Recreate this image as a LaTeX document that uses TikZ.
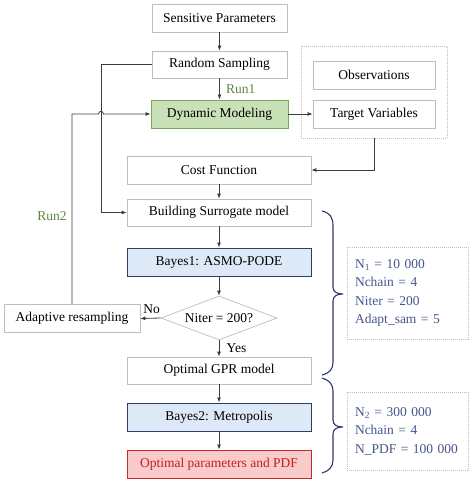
\documentclass[tikz,border=0pt]{standalone}
\usepackage{fontspec}
\setmainfont{Liberation Serif}
\usetikzlibrary{arrows.meta,shapes.geometric}
\definecolor{boxgray}{RGB}{190,190,190}
\definecolor{linegray}{RGB}{60,60,60}
\definecolor{greenfill}{RGB}{200,225,182}
\definecolor{greenline}{RGB}{120,165,95}
\definecolor{bluefill}{RGB}{222,233,247}
\definecolor{blueline}{RGB}{45,60,105}
\definecolor{redfill}{RGB}{249,203,203}
\definecolor{redline}{RGB}{200,40,40}
\definecolor{redtext}{RGB}{195,30,30}
\definecolor{runtext}{RGB}{95,135,65}
\definecolor{paramtext}{RGB}{70,85,140}
\definecolor{bracecol}{RGB}{45,55,110}
\tikzset{
  base/.style={rectangle, draw=boxgray, line width=0.7pt, fill=white, inner sep=0pt,
    font=\fontsize{13.5}{16}\selectfont, text=black},
  wbox/.style={base, minimum width=184pt, minimum height=28pt},
  gbox/.style={base, draw=greenline, fill=greenfill, line width=0.9pt},
  bbox/.style={wbox, draw=blueline, fill=bluefill, line width=1pt},
  rbox/.style={wbox, draw=redline, fill=redfill, line width=1pt, text=redtext},
  dotbox/.style={rectangle, draw=boxgray, dash pattern=on 1pt off 1pt, line width=0.6pt, inner sep=0pt},
  parbox/.style={dotbox, font=\fontsize{13.5}{18.6}\selectfont, text=paramtext, align=left,
    minimum width=121pt, inner xsep=8pt, text width=105pt},
  conn/.style={draw=linegray, line width=0.8pt, -{Latex[length=5pt,width=4pt]}},
  plain/.style={draw=linegray, line width=0.8pt},
  runlbl/.style={font=\fontsize{13.5}{16}\selectfont, text=runtext},
  lbl/.style={font=\fontsize{13.5}{16}\selectfont, text=black},
  bracestyle/.style={draw=bracecol, line width=1.1pt},
}
\begin{document}
\begin{tikzpicture}[x=1pt,y=-1pt]
\useasboundingbox (0,0) rectangle (474,486);
% group box
\node[dotbox, minimum width=146pt, minimum height=92pt] (grp) at (374,92) {};
\node[base, minimum width=135pt, minimum height=28pt] (sens) at (219.5,18) {Sensitive Parameters};
\node[base, minimum width=135pt, minimum height=27pt] (rand) at (219.5,64.5) {Random Sampling};
\node[gbox, minimum width=137pt, minimum height=28pt] (dyn) at (219.5,114) {Dynamic Modeling};
\node[base, minimum width=122pt, minimum height=28pt] (obs) at (374,75) {Observations};
\node[base, minimum width=122pt, minimum height=28pt] (targ) at (374,114) {Target Variables};
\node[wbox] (cost) at (219,170) {Cost Function};
\node[wbox, minimum height=27pt] (build) at (219,212.5) {Building Surrogate model};
\node[bbox] (bayes1) at (219,262) {Bayes1: ASMO-PODE};
\node[base, shape=diamond, aspect=2.64, minimum width=116pt, minimum height=44pt] (dec) at (219,318) {Niter = 200?};
\node[base, minimum width=136pt, minimum height=28pt] (adapt) at (72,318.5) {Adaptive resampling};
\node[wbox, minimum height=27pt] (gpr) at (219,370.5) {Optimal GPR model};
\node[bbox] (bayes2) at (219,417) {Bayes2: Metropolis};
\node[rbox] (opt) at (219,464) {Optimal parameters and PDF};
% parameter boxes
\node[parbox, minimum height=92pt] (par1) at (407.5,293)
  {N\textsubscript{1} = 10 000\\Nchain = 4\\Niter = 200\\Adapt\_sam = 5};
\node[parbox, minimum height=78pt] (par2) at (407.5,431)
  {N\textsubscript{2} = 300 000\\Nchain = 4\\N\_PDF = 100 000};
% connectors
\draw[conn] (sens) -- (rand);
\draw[conn] (rand) -- node[runlbl, right=3pt, pos=0.5] (run1) {Run1} (dyn);
\draw[conn] (dyn) -- (targ);
\draw[conn] (grp.south) |- (cost.east);
\draw[conn] (cost) -- (build);
\draw[conn] (build) -- (bayes1);
\draw[conn] (bayes1) -- (dec);
\draw[conn] (dec.west) -- node[lbl, above=1pt, pos=0.45] (nolbl) {No} (adapt.east);
\draw[conn] (dec.south) -- node[lbl, right=4pt, pos=0.45] (yeslbl) {Yes} (gpr.north);
\draw[conn] (gpr) -- (bayes2);
\draw[conn] (bayes2) -- (opt);
% loops
\coordinate (l1) at (101,64.5);
\draw[conn] (rand.west) -- (l1) |- (build.west);
\coordinate (l2) at (72,114);
\coordinate (h1) at (98.5,114);
\coordinate (h2) at (103.5,114);
\draw[conn] (adapt.north) -- (l2) -- (h1) .. controls (98.5,110.5) and (103.5,110.5) .. (h2) -- (dyn.west);
\node[runlbl] (run2) at (52,216) {Run2};
% braces
\draw[bracestyle] (322,211) .. controls (330,213) and (333,217) .. (333,226) -- (333,287)
  .. controls (333,292) and (337,294) .. (343,294) .. controls (337,294) and (333,296) .. (333,301)
  -- (333,362) .. controls (333,369) and (330,373) .. (322,375);
\draw[bracestyle] (322,378) .. controls (329,380) and (333,384) .. (333,391) -- (333,420)
  .. controls (333,425) and (337,427) .. (343,427) .. controls (337,427) and (333,429) .. (333,434)
  -- (333,460) .. controls (333,467) and (329,471) .. (322,473);
\end{tikzpicture}
\end{document}
